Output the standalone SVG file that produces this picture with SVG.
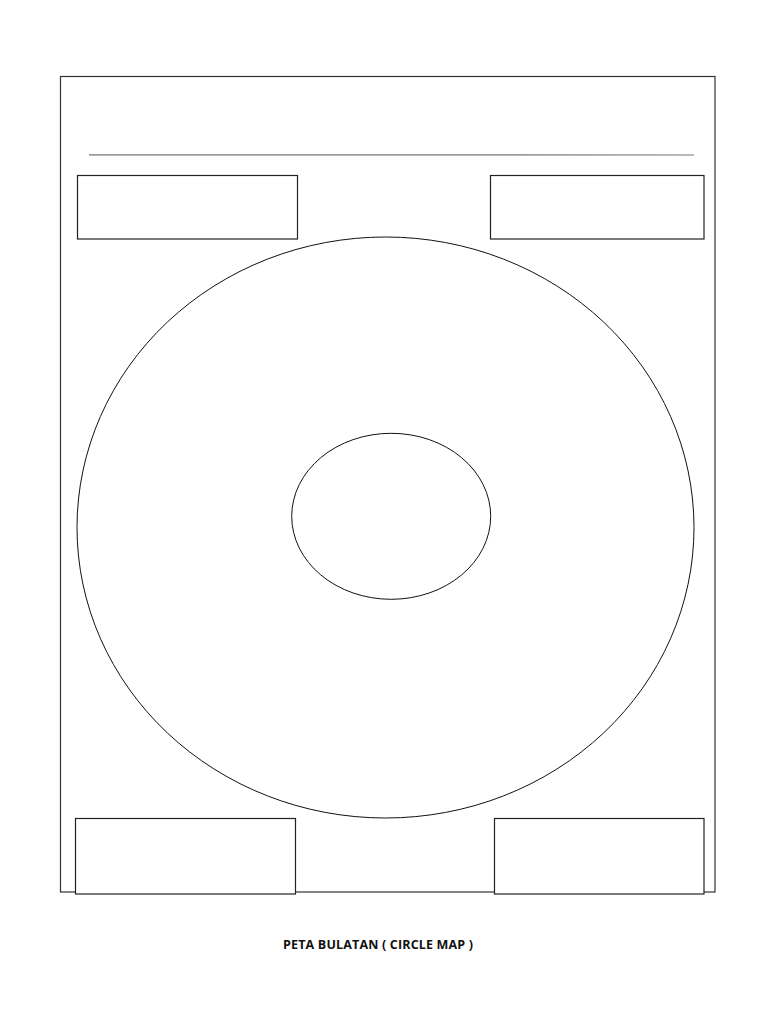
<svg xmlns="http://www.w3.org/2000/svg" width="768" height="1024" viewBox="0 0 768 1024">
<style>
.frame{fill:none;stroke:#333;stroke-width:1.2}
.box{fill:#fff;stroke:#222;stroke-width:1.2}
.ell{fill:#fff;stroke:#111;stroke-width:1}
.title{font-family:"Open Sans","Liberation Sans",sans-serif;font-weight:bold;font-size:12.5px;fill:#111}
</style>
<rect width="768" height="1024" fill="#fff"/>
<g id="frame">
<rect class="frame" x="60.5" y="76.5" width="654.5" height="815.5"/>
<line x1="89" y1="154.8" x2="694" y2="155" stroke="#777" stroke-width="1.2"/>
</g>
<g id="box-top-left"><rect class="box" x="77.5" y="175.5" width="220" height="63.5"/></g>
<g id="box-top-right"><rect class="box" x="490.5" y="175.5" width="213.5" height="63.5"/></g>
<g id="outer-circle"><ellipse class="ell" cx="385.5" cy="527.5" rx="308.5" ry="290.5"/></g>
<g id="inner-circle"><ellipse class="ell" cx="391.2" cy="516.3" rx="99.5" ry="83"/></g>
<g id="box-bottom-left"><rect class="box" x="75.5" y="818.5" width="220" height="75.5" stroke="#555"/></g>
<g id="box-bottom-right"><rect class="box" x="494.5" y="818.5" width="209.5" height="75.5" stroke="#555"/></g>
<g id="connectors"/>
<text class="title" x="378" y="949" text-anchor="middle" textLength="190" lengthAdjust="spacing">PETA BULATAN ( CIRCLE MAP )</text>
</svg>
